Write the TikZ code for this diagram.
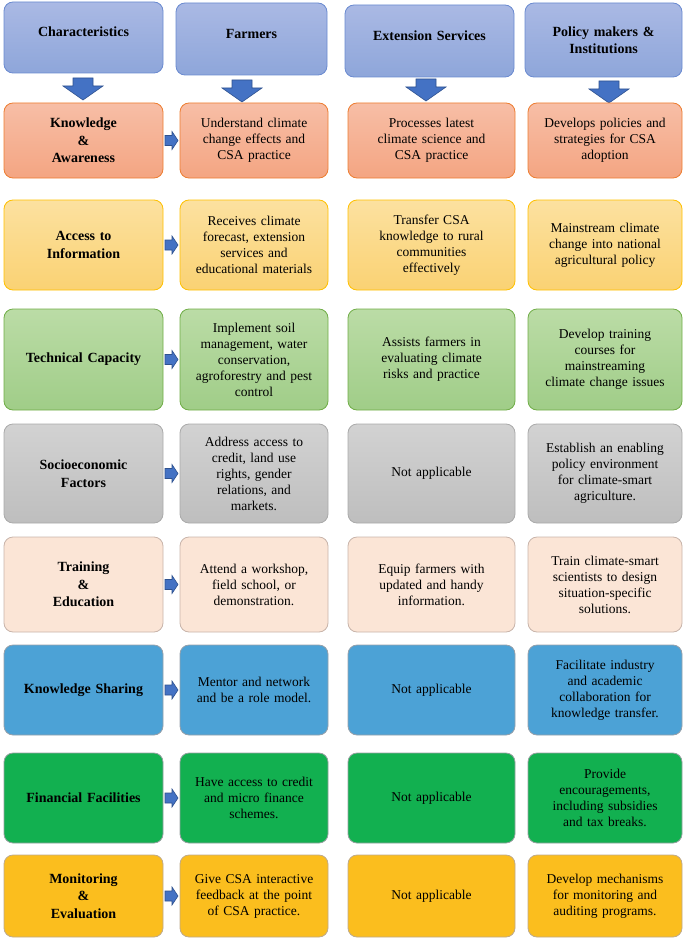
\documentclass[tikz,border=0pt]{standalone}
\usepackage{fontspec}
\setmainfont{Liberation Serif}
\usetikzlibrary{calc}
\definecolor{arrb}{HTML}{4472C4}
\definecolor{arrd}{HTML}{2F528F}
\tikzset{
 cell/.style={rounded corners=9pt,line width=0.8pt,align=center,font=\fontsize{13.5}{16}\selectfont,inner sep=2pt},
 hd/.style={cell,font=\bfseries\fontsize{14}{17}\selectfont},
 darr/.style={fill=arrb,draw=arrd,line width=0.6pt},
}
\newcommand{\bx}[7]{% name, x1,y1,x2,y2, style, text
 \path[#6] (#2,#3) rectangle (#4,#5);
 \node[#6,draw=none,fill=none,shade=none,text width=#4-#2,inner sep=0pt,minimum width=0pt,anchor=center] (#1) at ({(#2+#4)/2},{(#3+#5)/2}) {#7};}
\newcommand{\rarr}[2]{% x, y center
 \fill[darr] (#1,#2-5) -- (#1+7,#2-5) -- (#1+7,#2-9) -- (#1+13,#2) -- (#1+7,#2+9) -- (#1+7,#2+5) -- (#1,#2+5) -- cycle;}
\newcommand{\dar}[2]{% x center, y top
 \fill[darr] (#1-10,#2) -- (#1+10,#2) -- (#1+10,#2+8) -- (#1+20,#2+8) -- (#1,#2+22) -- (#1-20,#2+8) -- (#1-10,#2+8) -- cycle;}
\newcommand{\row}[8]{% y1,y2,style,t1,t2,t3,t4,idx
 \bx{c1#8}{4}{#1}{163}{#2}{#3,font=\bfseries\fontsize{14}{17.5}\selectfont}{#4}
 \bx{c2#8}{180}{#1}{328}{#2}{cell,#3}{#5}
 \bx{c3#8}{348}{#1}{515}{#2}{cell,#3}{#6}
 \bx{c4#8}{528}{#1}{682}{#2}{cell,#3}{#7}
 \pgfmathsetmacro\ymid{(#1+#2)/2}
 \rarr{165}{\ymid}}
\begin{document}
\begin{tikzpicture}[x=1pt,y=-1pt]
\useasboundingbox (0,0) rectangle (685,939);
\tikzset{
 hdr/.style={top color={rgb,255:red,170;green,185;blue,228},bottom color={rgb,255:red,142;green,166;blue,218},draw={rgb,255:red,106;green,138;blue,208}},
 r1/.style={top color={rgb,255:red,247;green,190;blue,166},bottom color={rgb,255:red,244;green,165;blue,130},draw={rgb,255:red,237;green,125;blue,49}},
 r2/.style={top color={rgb,255:red,252;green,225;blue,160},bottom color={rgb,255:red,250;green,210;blue,115},draw={rgb,255:red,255;green,192;blue,0}},
 r3/.style={top color={rgb,255:red,187;green,220;blue,166},bottom color={rgb,255:red,160;green,205;blue,136},draw={rgb,255:red,112;green,173;blue,71}},
 r4/.style={top color={rgb,255:red,210;green,210;blue,210},bottom color={rgb,255:red,190;green,190;blue,190},draw={rgb,255:red,170;green,170;blue,170}},
 r5/.style={fill={rgb,255:red,251;green,229;blue,214},draw={rgb,255:red,200;green,180;blue,170}},
 r6/.style={fill={rgb,255:red,76;green,162;blue,214},draw={rgb,255:red,150;green,160;blue,170}},
 r7/.style={fill={rgb,255:red,18;green,176;blue,80},draw={rgb,255:red,150;green,160;blue,160}},
 r8/.style={fill={rgb,255:red,251;green,190;blue,30},draw={rgb,255:red,190;green,170;blue,140}},
}
% headers
\bx{h1}{4}{2}{163}{73}{hd,hdr}{\raisebox{12pt}{Characteristics}}
\bx{h2}{176}{3}{327}{75}{hd,hdr}{\raisebox{10pt}{Farmers}}
\bx{h3}{345}{5}{514}{77}{hd,hdr}{\raisebox{10pt}{Extension Services}}
\bx{h4}{525}{3}{682}{77}{hd,hdr}{\raisebox{2pt}{\parbox{150pt}{\centering Policy makers \&\\Institutions}}}
\dar{83}{78}\dar{242}{80}\dar{426}{79}\dar{609}{81}
\row{103}{178}{cell,r1}{Knowledge\\\&\\Awareness}{Understand climate\\change effects and\\CSA practice}{Processes latest\\climate science and\\CSA practice}{Develops policies and\\strategies for CSA\\adoption}{a}
\row{200}{290}{cell,r2}{Access to\\Information}{Receives climate\\forecast, extension\\services and\\educational materials}{Transfer CSA\\knowledge to rural\\communities\\effectively}{Mainstream climate\\change into national\\agricultural policy}{b}
\row{309}{410}{cell,r3}{Technical Capacity}{Implement soil\\management, water\\conservation,\\agroforestry and pest\\control}{Assists farmers in\\evaluating climate\\risks and practice}{Develop training\\courses for\\mainstreaming\\climate change issues}{c}
\row{424}{523}{cell,r4}{Socioeconomic\\Factors}{Address access to\\credit, land use\\rights, gender\\relations, and\\markets.}{Not applicable}{Establish an enabling\\policy environment\\for climate-smart\\agriculture.}{d}
\row{537}{632}{cell,r5}{Training\\\&\\Education}{Attend a workshop,\\field school, or\\demonstration.}{Equip farmers with\\updated and handy\\information.}{Train climate-smart\\scientists to design\\situation-specific\\solutions.}{e}
\row{645}{735}{cell,r6}{Knowledge Sharing}{Mentor and network\\and be a role model.}{Not applicable}{Facilitate industry\\and academic\\collaboration for\\knowledge transfer.}{f}
\row{753}{843}{cell,r7}{Financial Facilities}{Have access to credit\\and micro finance\\schemes.}{Not applicable}{Provide\\encouragements,\\including subsidies\\and tax breaks.}{g}
\row{855}{937}{cell,r8}{Monitoring\\\&\\Evaluation}{Give CSA interactive\\feedback at the point\\of CSA practice.}{Not applicable}{Develop mechanisms\\for monitoring and\\auditing programs.}{h}
\end{tikzpicture}
\end{document}
